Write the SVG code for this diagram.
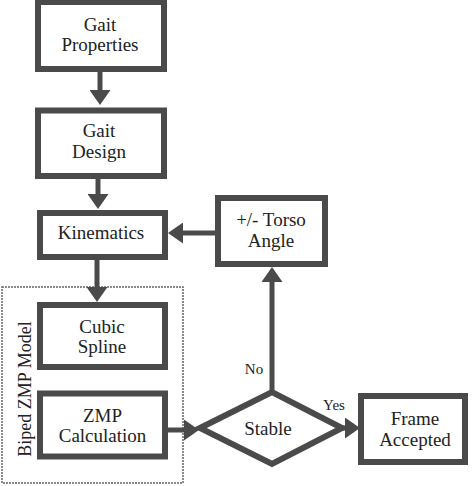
<svg xmlns="http://www.w3.org/2000/svg" width="474" height="486" viewBox="0 0 474 486" font-family="'Liberation Serif', 'Times New Roman', serif">
<style>
.box{fill:#fff;stroke:#4a4a4a;stroke-width:6}
.t{font-size:19px;fill:#222;text-anchor:middle}
.s{font-size:15px;fill:#222;text-anchor:middle}
.c{fill:none;stroke:#4a4a4a;stroke-width:5}
</style>
<defs>
<marker id="ah" markerUnits="userSpaceOnUse" markerWidth="15" markerHeight="21" refX="0" refY="10.5" orient="auto">
<path d="M0,0 L15,10.5 L0,21 z" fill="#4a4a4a"/>
</marker>
</defs>
<rect width="474" height="486" fill="#fff"/>
<g id="group-biped">
<rect x="2" y="287" width="181" height="196" fill="none" stroke="#666" stroke-width="1.5" stroke-dasharray="2 1"/>
<text class="t" style="font-size:18px" transform="translate(31,389) rotate(-90)">Biped ZMP Model</text>
</g>
<g id="connectors">
<path class="c" d="M100,72 V90" marker-end="url(#ah)"/>
<path class="c" d="M98,179 V194" marker-end="url(#ah)"/>
<path class="c" d="M215,233 H183" marker-end="url(#ah)"/>
<path class="c" d="M97,260 V287" marker-end="url(#ah)"/>
<path class="c" d="M168,430 H184" marker-end="url(#ah)"/>
<path class="c" d="M272,392 V282" marker-end="url(#ah)"/>
<path class="c" d="M342,428 H345" marker-end="url(#ah)"/>
<text class="s" x="254" y="374">No</text>
<text class="s" x="334" y="410">Yes</text>
</g>
<g id="gait-properties">
<rect class="box" x="38" y="2" width="126" height="67"/>
<text class="t" x="100" y="31">Gait</text>
<text class="t" x="100" y="51">Properties</text>
</g>
<g id="gait-design">
<rect class="box" x="38" y="110.5" width="126" height="65.5"/>
<text class="t" x="99" y="137">Gait</text>
<text class="t" x="99" y="158">Design</text>
</g>
<g id="kinematics">
<rect class="box" x="40" y="213" width="125" height="44"/>
<text class="t" x="101" y="239">Kinematics</text>
</g>
<g id="torso-angle">
<rect class="box" x="218" y="198" width="107" height="66"/>
<text class="t" x="271" y="226">+/- Torso</text>
<text class="t" x="271" y="247">Angle</text>
</g>
<g id="cubic-spline">
<rect class="box" x="40" y="305" width="125" height="62"/>
<text class="t" x="102" y="333">Cubic</text>
<text class="t" x="102" y="353">Spline</text>
</g>
<g id="zmp-calculation">
<rect class="box" x="40" y="393.5" width="125" height="63"/>
<text class="t" x="102.5" y="422">ZMP</text>
<text class="t" x="102.5" y="442">Calculation</text>
</g>
<g id="stable">
<polygon class="box" points="200,428 272,392 342,428 272,464"/>
<text class="t" x="268" y="435">Stable</text>
</g>
<g id="frame-accepted">
<rect class="box" x="361" y="396" width="104" height="66"/>
<text class="t" x="415" y="425">Frame</text>
<text class="t" x="415" y="446">Accepted</text>
</g>
</svg>
